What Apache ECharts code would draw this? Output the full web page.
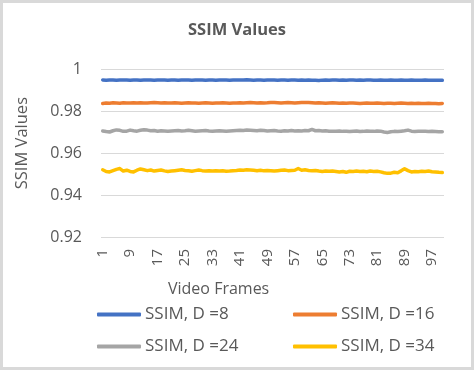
<!DOCTYPE html>
<html><head><meta charset="utf-8">
<script src="https://cdn.jsdelivr.net/npm/echarts@6/dist/echarts.min.js"></script>
<style>
html,body{margin:0;padding:0;background:#d9d9d9;}
#c{position:absolute;left:3px;top:3px;width:468px;height:364px;background:#fff;}
</style></head>
<body><div id="c"></div>
<script>
const frames = Array.from({length:100},(_,i)=>String(i+1));
const seriesNames = ['SSIM, D =8','SSIM, D =16','SSIM, D =24','SSIM, D =34'];
const d8 = [
0.9948,0.9947,0.9948,0.9948,0.9947,0.9948,0.9948,0.9948,0.9947,0.9948,
0.9948,0.9947,0.9948,0.9948,0.9948,0.9947,0.9948,0.9948,0.9948,0.9947,
0.9948,0.9948,0.9947,0.9948,0.9948,0.9948,0.9947,0.9948,0.9948,0.9948,
0.9947,0.9948,0.9948,0.9947,0.9948,0.9948,0.9948,0.9947,0.9948,0.9948,
0.9948,0.9948,0.9949,0.9948,0.9947,0.9948,0.9948,0.9947,0.9948,0.9948,
0.9948,0.9947,0.9948,0.9948,0.9947,0.9948,0.9948,0.9947,0.9948,0.9947,
0.9948,0.9947,0.9946,0.9945,0.9947,0.9948,0.9947,0.9948,0.9948,0.9947,
0.9948,0.9947,0.9948,0.9948,0.9947,0.9948,0.9947,0.9948,0.9948,0.9947,
0.9947,0.9948,0.9947,0.9947,0.9948,0.9947,0.9947,0.9948,0.9947,0.9947,
0.9948,0.9947,0.9947,0.9947,0.9948,0.9947,0.9946,0.9947,0.9947,0.9946];
const d16 = [
0.9836,0.9838,0.9837,0.9839,0.9838,0.9837,0.9839,0.9838,0.9838,0.9839,
0.9838,0.9839,0.9838,0.9838,0.9839,0.9840,0.9839,0.9838,0.9839,0.9838,
0.9838,0.9839,0.9838,0.9837,0.9838,0.9839,0.9838,0.9838,0.9837,0.9838,
0.9839,0.9838,0.9837,0.9838,0.9838,0.9839,0.9838,0.9837,0.9838,0.9838,
0.9839,0.9838,0.9839,0.9840,0.9839,0.9838,0.9839,0.9838,0.9839,0.9841,
0.9840,0.9839,0.9838,0.9839,0.9840,0.9839,0.9838,0.9839,0.9840,0.9841,
0.9840,0.9839,0.9838,0.9839,0.9838,0.9837,0.9838,0.9839,0.9838,0.9837,
0.9838,0.9837,0.9838,0.9838,0.9837,0.9836,0.9837,0.9838,0.9837,0.9837,
0.9838,0.9837,0.9836,0.9837,0.9837,0.9836,0.9837,0.9838,0.9837,0.9836,
0.9837,0.9836,0.9837,0.9836,0.9836,0.9837,0.9836,0.9836,0.9835,0.9836];
const d24 = [
0.9705,0.9702,0.9700,0.9706,0.9710,0.9708,0.9703,0.9704,0.9709,0.9706,
0.9704,0.9708,0.9711,0.9709,0.9706,0.9707,0.9704,0.9706,0.9705,0.9704,
0.9705,0.9706,0.9707,0.9705,0.9706,0.9708,0.9706,0.9704,0.9705,0.9706,
0.9707,0.9705,0.9704,0.9705,0.9706,0.9705,0.9704,0.9705,0.9706,0.9707,
0.9708,0.9707,0.9709,0.9708,0.9707,0.9706,0.9708,0.9707,0.9705,0.9706,
0.9707,0.9705,0.9704,0.9706,0.9705,0.9707,0.9705,0.9706,0.9705,0.9707,
0.9706,0.9712,0.9706,0.9707,0.9705,0.9706,0.9704,0.9703,0.9704,0.9705,
0.9703,0.9704,0.9702,0.9704,0.9705,0.9702,0.9703,0.9705,0.9704,0.9703,
0.9705,0.9704,0.9700,0.9698,0.9701,0.9703,0.9702,0.9704,0.9706,0.9709,
0.9704,0.9702,0.9703,0.9704,0.9703,0.9702,0.9703,0.9702,0.9701,0.9701];
const d34 = [
0.9520,0.9512,0.9510,0.9516,0.9522,0.9526,0.9514,0.9518,0.9512,0.9510,
0.9518,0.9524,0.9520,0.9516,0.9519,0.9514,0.9517,0.9519,0.9515,0.9512,
0.9514,0.9516,0.9518,0.9520,0.9517,0.9515,0.9513,0.9516,0.9519,0.9516,
0.9514,0.9515,0.9514,0.9515,0.9514,0.9515,0.9513,0.9514,0.9516,0.9517,
0.9519,0.9518,0.9520,0.9519,0.9518,0.9516,0.9518,0.9515,0.9517,0.9516,
0.9514,0.9516,0.9518,0.9519,0.9516,0.9517,0.9518,0.9526,0.9518,0.9520,
0.9517,0.9516,0.9517,0.9514,0.9512,0.9514,0.9513,0.9514,0.9512,0.9510,
0.9512,0.9508,0.9513,0.9512,0.9514,0.9512,0.9513,0.9511,0.9514,0.9512,
0.9513,0.9510,0.9506,0.9503,0.9504,0.9508,0.9506,0.9515,0.9525,0.9516,
0.9510,0.9512,0.9511,0.9513,0.9512,0.9514,0.9511,0.9510,0.9508,0.9507];
const yMin = 0.92, yMax = 1, yStep = 0.02;
const colors = ['#4472C4','#ED7D31','#A5A5A5','#FFC000'];
const allData = [d8,d16,d24,d34];

const font = "'Open Sans', 'Liberation Sans', sans-serif";
const chart = echarts.init(document.getElementById('c'));
const legendPos = [[89,298],[285,298],[89,330],[285,330]];
chart.setOption({
  animation:false,
  color: colors,
  title:{text:'SSIM Values',left:'center',top:14,
    textStyle:{fontFamily:font,fontSize:16.5,fontWeight:'bold',color:'#595959'}},
  grid:{left:98,right:27,top:66,bottom:130,containLabel:false},
  legend: seriesNames.map((n,i)=>({
    data:[n], left:legendPos[i][0], top:legendPos[i][1],
    icon:'roundRect', itemWidth:44, itemHeight:4, itemGap:0,
    textStyle:{fontFamily:font,fontSize:17,color:'#595959',padding:[0,0,0,-1]}
  })),
  graphic:[
    {type:'text',left:165,top:278,style:{text:'Video Frames',font:"16px 'Open Sans', sans-serif",fill:'#595959'}},
    {type:'text',left:11,top:94,rotation:Math.PI/2,style:{text:'SSIM Values',font:"16.5px 'Open Sans', sans-serif",fill:'#595959'}}
  ],
  xAxis:{type:'category',data:frames,boundaryGap:true,
    axisLine:{show:false},axisTick:{show:false},
    axisLabel:{interval:7,rotate:90,fontFamily:font,fontSize:15,color:'#595959',margin:12}},
  yAxis:{type:'value',min:yMin,max:yMax,interval:yStep,
    axisLine:{show:false},axisTick:{show:false},
    splitLine:{lineStyle:{color:'#d9d9d9',width:1}},
    axisLabel:{fontFamily:font,fontSize:16,color:'#595959',margin:19,
      formatter:v=>String(+v.toFixed(2))}},
  series: allData.map((d,i)=>({
    name:seriesNames[i],type:'line',data:d,showSymbol:false,symbol:'none',
    lineStyle:{width:3.5,color:colors[i],cap:'round',join:'round'},itemStyle:{color:colors[i]}
  }))
});
</script></body></html>
